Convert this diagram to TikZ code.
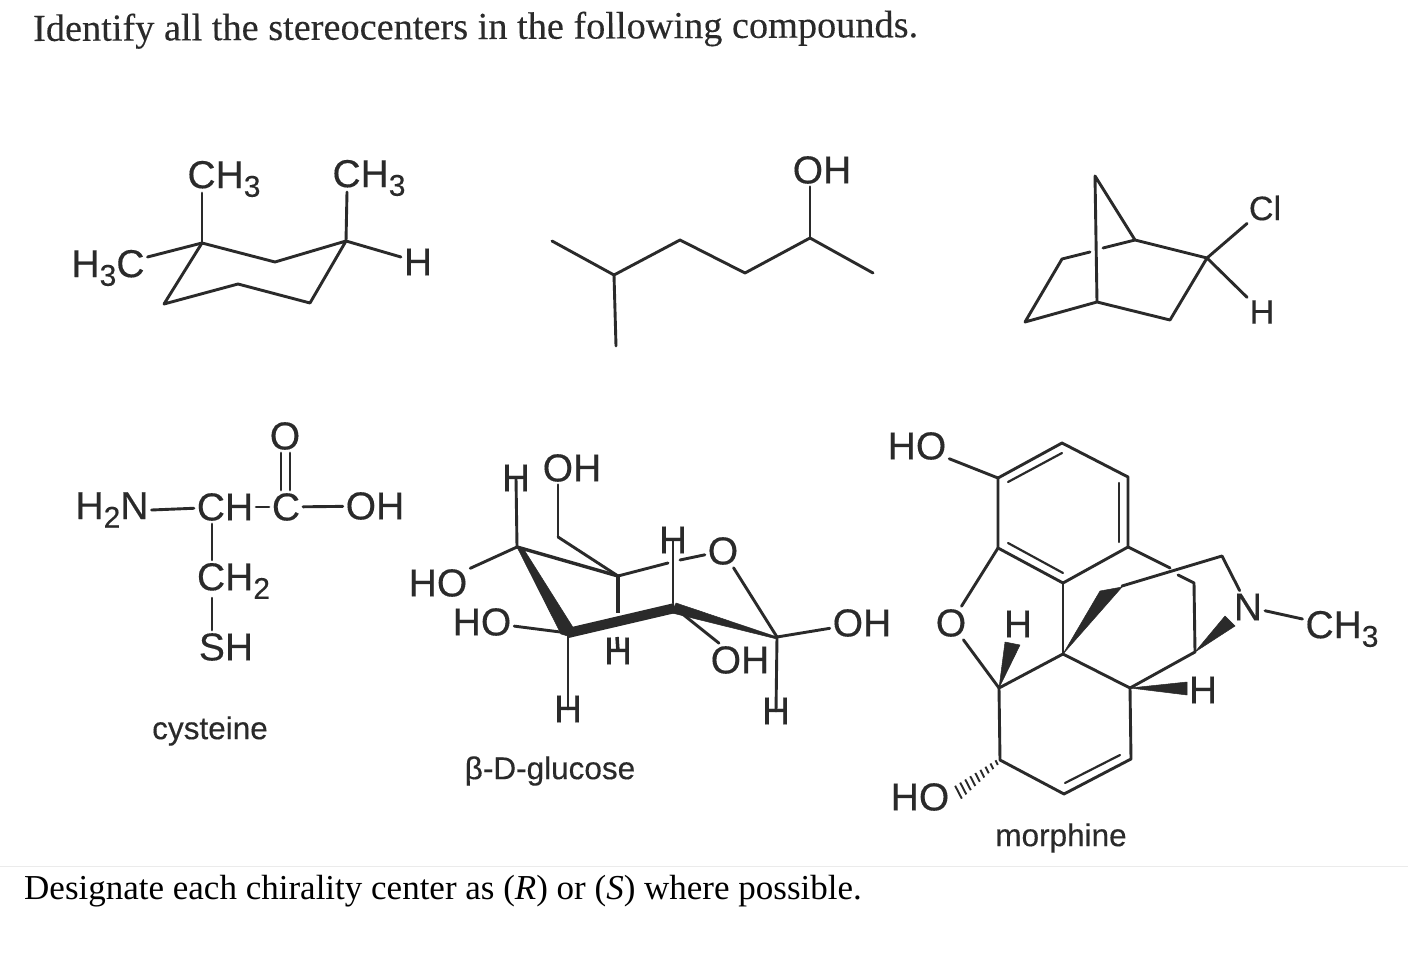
\documentclass[tikz,border=0pt]{standalone}
\usetikzlibrary{calc}
\usepackage{fontspec}
\setmainfont[FakeBold=0.3]{Liberation Sans}
\newfontfamily\botfont{Liberation Serif}
\newfontfamily\topfont[FakeBold=0.2]{Liberation Serif}
\newcommand{\chsub}[1]{\raisebox{-.22em}{\fontsize{30}{30}\selectfont #1}}
\definecolor{ink}{HTML}{2A2A2A}
\tikzset{
  x=1pt,y=-1pt,
  bond/.style={draw=ink,line width=2.9pt,line cap=round,line join=round},
  thinbond/.style={draw=ink,line width=2.2pt,line cap=round},
  wedgefill/.style={fill=ink,draw=ink,line width=.5pt,line join=round},
  atom/.style={text=ink,inner sep=0pt,outer sep=3pt,font=\fontsize{39}{39}\selectfont},
  caption/.style={text=ink,inner sep=0pt,font=\fontsize{31.5}{31.5}\selectfont},
}
\begin{document}
\begin{tikzpicture}
\useasboundingbox (0,0) rectangle (1408,968);
\fill[white] (0,0) rectangle (1408,968);
\coordinate (ruleL) at (0,866); \coordinate (ruleR) at (1408,866);
\draw[black!8,line width=.8pt] (ruleL) -- (ruleR);
\node[text=ink,inner sep=0pt,anchor=base west,rotate=.25,font=\topfont\fontsize{38.3}{44}\selectfont] (title) at (33,41) {Identify all the stereocenters in the following compounds.};
\node[text=black,inner sep=0pt,anchor=base west,font=\botfont\fontsize{35}{40}\selectfont] (foot) at (24,899) {Designate each chirality center as (\textit{R}) or (\textit{S}) where possible.};

% --- cyclohexane
\coordinate (a1) at (202,243); \coordinate (a2) at (275,262); \coordinate (a3) at (346,241);
\coordinate (a4) at (310,303); \coordinate (a5) at (238,284); \coordinate (a6) at (164,304);
\node[atom] (aMe1) at (224,179) {CH\chsub{3}};
\node[atom] (aMe2) at (369,178) {CH\chsub{3}};
\node[atom] (aMe3) at (108,268) {H\chsub{3}C};
\node[atom] (aH) at (418,262) {H};
\draw[bond] (a1) -- (a2) -- (a3) -- (a4) -- (a5) -- (a6) -- (a1);
\draw[bond] (a1) -- ([xshift=-22pt,yshift=7pt]aMe1.south);
\draw[bond] (a3) -- ([xshift=-22pt,yshift=7pt]aMe2.south);
\draw[bond] (a1) -- ([yshift=11pt]aMe3.east);
\draw[bond] (a3) -- (aH);

% --- alcohol
\coordinate (b1) at (552,241); \coordinate (b2) at (614,275); \coordinate (b3) at (680,240);
\coordinate (b4) at (745,273); \coordinate (b5) at (810,238); \coordinate (b6) at (873,273);
\coordinate (b7) at (616,346);
\node[atom] (bOH) at (822,170) {OH};
\draw[bond] (b1) -- (b2) -- (b3) -- (b4) -- (b5) -- (b6);
\draw[bond] (b2) -- (b7);
\draw[bond] (b5) -- ([xshift=-12pt]bOH.south);

% --- norbornane
\coordinate (c1) at (1095,176); \coordinate (c2) at (1135,240); \coordinate (c3) at (1207,258);
\coordinate (c4) at (1170,320); \coordinate (c5) at (1097,302); \coordinate (c6) at (1025,322);
\coordinate (c7) at (1062,259); \coordinate (c8) at (1090,252); \coordinate (c9) at (1103,248);
\node[atom,font=\fontsize{34}{34}\selectfont] (cCl) at (1265,208) {Cl};
\node[atom,font=\fontsize{34}{34}\selectfont] (cH) at (1262,312) {H};
\draw[bond] (c5) -- (c1) -- (c2) -- (c3) -- (c4) -- (c5) -- (c6) -- (c7) -- (c8);
\draw[bond] (c9) -- (c2);
\draw[bond] (c3) -- (cCl);
\draw[bond] (c3) -- (cH);

% --- cysteine
\node[atom] (dN) at (112,510) {H\chsub{2}N};
\node[atom] (dCH) at (225,507) {CH};
\node[atom] (dC) at (286,507) {C};
\node[atom] (dOH) at (375,506) {OH};
\node[atom] (dO) at (285,436) {O};
\node[atom] (dCH2) at (233.5,581) {CH\chsub{2}};
\node[atom] (dSH) at (226,647) {SH};
\node[caption] (dcap) at (210,731) {cysteine};
\draw[bond] (dN.east) -- (dCH);
\draw[bond] (dCH) -- (dC);
\draw[bond] (dC) -- (dOH);
\draw[thinbond] ([xshift=-4pt]dO.south) -- ([xshift=-5pt]dC.north);
\draw[thinbond] ([xshift=5pt]dO.south) -- ([xshift=4pt]dC.north);
\draw[thinbond] ([xshift=-13pt]dCH.south) -- ([xshift=-21.5pt]dCH2.north);
\draw[thinbond] ([xshift=-21.5pt,yshift=4pt]dCH2.south) -- ([xshift=-14pt]dSH.north);

% --- glucose
\coordinate (e1) at (517,547); \coordinate (e2) at (618,576); \coordinate (e3) at (568,633);
\coordinate (e4) at (675,608); \coordinate (e5) at (777,637); \coordinate (e6) at (558,537);
\coordinate (e7) at (668,563); \coordinate (e8) at (680,560); \coordinate (e9) at (618,613);
\coordinate (e10) at (673,603); \coordinate (e11) at (617,637);
\node[atom] (eH1) at (516,478) {H};
\node[atom] (eOH1) at (572,468) {OH};
\node[atom] (eHO1) at (438,583) {HO};
\node[atom] (eHO2) at (482,622) {HO};
\node[atom] (eO) at (723,551) {O};
\node[atom] (eH2) at (673,540) {H};
\node[atom] (eH3) at (618,651) {H};
\node[atom] (eH4) at (568,709) {H};
\node[atom] (eH5) at (776,711) {H};
\node[atom] (eOH2) at (740,660) {OH};
\node[atom] (eOH3) at (862,623) {OH};
\node[caption] (ecap) at (550,771) {β-D-glucose};
\draw[bond] (e1) -- (eH1.center);
\draw[bond] (e1) -- (eHO1);
\draw[bond] (e6) -- ([xshift=-14pt]eOH1.south);
\draw[bond] (e6) -- (e2);
\draw[bond,line width=3.4pt] (e1) -- (e2);
\draw[bond] (e2) -- (e7);
\draw[bond] (e8) -- (eO);
\draw[bond] (eO) -- (e5);
\draw[bond,line width=4.5pt,line cap=butt] (e2) -- (e9);
\draw[bond,line width=3.5pt,line cap=butt] (e11) -- (eH3.center);
\draw[bond] (e10) -- (eH2.center);
\draw[bond] (e3) -- (eH4.center);
\draw[bond] (e3) -- (eHO2);
\draw[bond] (e4) -- (eOH2);
\draw[bond] (e5) -- (eOH3);
\draw[bond] (e5) -- (eH5.center);
\fill[wedgefill] (e1) -- (523,548) -- (574,629) -- (571,637) -- (561,634) -- cycle;
\draw[bond,line width=10pt,line cap=butt] (e3) -- (e4);
\fill[wedgefill] (676,603) -- (e5) -- (777,639) -- (672,613) -- cycle;

% --- morphine
\coordinate (f1) at (998,478); \coordinate (f2) at (1062,443); \coordinate (f3) at (1128,477);
\coordinate (f4) at (1128,547); \coordinate (f5) at (1063,583); \coordinate (f6) at (998,548);
\coordinate (f1i) at (1008,482); \coordinate (f2i) at (1062,453);
\coordinate (f3i) at (1119,483); \coordinate (f4i) at (1119,542);
\coordinate (f6i) at (1008,543); \coordinate (f5i) at (1063,573);
\coordinate (f7) at (999,688); \coordinate (f8) at (1063,654); \coordinate (f9) at (1130,688);
\coordinate (f10) at (1131,759); \coordinate (f11) at (1064,794); \coordinate (f12) at (1000,760);
\coordinate (f10i) at (1120,755); \coordinate (f11i) at (1065,783);
\coordinate (f13) at (1122,586); \coordinate (f14) at (1222,556); \coordinate (f15) at (1170,568);
\coordinate (f16) at (1178,575); \coordinate (f17) at (1194,583); \coordinate (f18) at (1195,652);
\node[atom] (fHO1) at (917,446) {HO};
\node[atom] (fO) at (951,623) {O};
\node[atom] (fH1) at (1018,624) {H};
\node[atom] (fN) at (1248,607) {N};
\node[atom] (fMe) at (1342,629) {CH\chsub{3}};
\node[atom] (fH2) at (1203,690) {H};
\node[atom] (fHO2) at (920,797) {HO};
\node[caption] (fcap) at (1061,838) {morphine};
\draw[bond] (fHO1) -- (f1);
\draw[bond] (f1) -- (f2) -- (f3) -- (f4) -- (f5) -- (f6) -- (f1);
\draw[thinbond] (f1i) -- (f2i);
\draw[thinbond] (f3i) -- (f4i);
\draw[thinbond] (f6i) -- (f5i);
\draw[bond] (f6) -- (fO);
\draw[bond] (fO) -- (f7);
\draw[bond] (f5) -- (f8);
\draw[bond] (f7) -- (f8) -- (f9) -- (f10) -- (f11) -- (f12) -- (f7);
\draw[thinbond] (f10i) -- (f11i);
\draw[bond] (f4) -- (f15);
\draw[bond] (f16) -- (f17) -- (f18) -- (f9);
\draw[bond] (f13) -- (f14) -- (fN);
\draw[bond] (fN) -- ([yshift=10pt]fMe.west);
\fill[wedgefill] (f7) -- (1005,642) -- (1020,645) -- cycle;
\fill[wedgefill] (f8) -- (1100,591) -- (1122,587) -- cycle;
\fill[wedgefill] (f18) -- (1225,616) -- (1235,626) -- cycle;
\fill[wedgefill] (f9) -- (1187,682) -- (1187,695) -- cycle;
\foreach \t/\w in {.07/2.6,.17/3.2,.27/3.8,.37/4.4,.47/5,.57/5.6,.67/6.2,.77/6.8,.87/7.4}{
  \draw[ink,line width=1.9pt] ($(f12)!\t!(fHO2.east)+(-.45*\w,-.87*\w)$) -- ($(f12)!\t!(fHO2.east)+(.45*\w,.87*\w)$);
}
\end{tikzpicture}
\end{document}
